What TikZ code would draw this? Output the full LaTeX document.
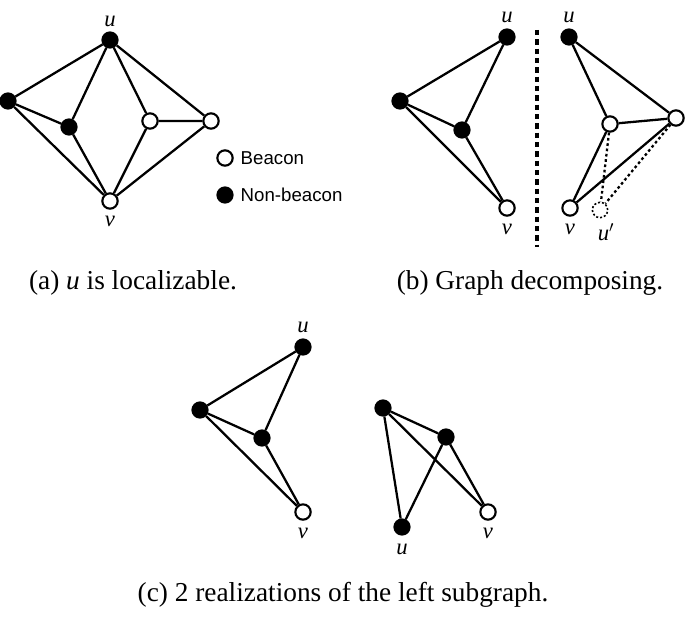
\documentclass[tikz,border=0pt]{standalone}
\usepackage{fontspec}
\setmainfont{Liberation Serif}
\setsansfont{Liberation Sans}
\begin{document}
\begin{tikzpicture}[x=0.75pt,y=-0.75pt,
  bk/.style={circle,fill=black,draw=black,line width=1.4pt,minimum size=11.5pt,inner sep=0},
  wh/.style={circle,fill=white,draw=black,line width=1.6pt,minimum size=11.5pt,inner sep=0},
  gh/.style={circle,fill=white,draw=black,dash pattern=on 1.5pt off 1.5pt,line width=1.2pt,minimum size=11.5pt,inner sep=0},
  ed/.style={line width=1.7pt},
  de/.style={line width=1.7pt,dash pattern=on 2pt off 2pt},
  lab/.style={font=\fontsize{17}{17}\selectfont\itshape},
  captext/.style={font=\fontsize{20.5}{21}\selectfont}]
\useasboundingbox (0,0) rectangle (685,617);
% (a)
\node[bk] (au) at (110,40) {};
\node[bk] (al) at (8,101) {};
\node[bk] (ai) at (69,127) {};
\node[wh] (ar) at (150,121) {};
\node[wh] (aR) at (211,121) {};
\node[wh] (av) at (110,201) {};
\draw[ed] (au)--(al) (au)--(ai) (au)--(ar) (au)--(aR) (al)--(ai) (al)--(av) (ai)--(av) (ar)--(aR) (ar)--(av) (aR)--(av);
\node[lab] (aul) at (110,21) {u};
\node[lab] (avl) at (110,221) {v};
\node[wh] (lb) at (225,158) {};
\node[bk] (ln) at (225,195) {};
\node[anchor=west,font=\sffamily\fontsize{14}{14}\selectfont] (lbt) at (236,158) {Beacon};
\node[anchor=west,font=\sffamily\fontsize{14}{14}\selectfont] (lnt) at (236,195) {Non-beacon};
\node[captext] (ca) at (133,283) {(a) \textit{u} is localizable.};
% (b) left
\node[bk] (bu) at (507,37) {};
\node[bk] (bl) at (400,101) {};
\node[bk] (bi) at (462,130) {};
\node[wh] (bv) at (507,208) {};
\draw[ed] (bu)--(bl) (bu)--(bi) (bl)--(bi) (bl)--(bv) (bi)--(bv);
\node[lab] (bul) at (507,17) {u};
\node[lab] (bvl) at (507,229) {v};
\coordinate (dt) at (537,30);
\coordinate (db) at (537,247);
\draw[line width=2.4pt,dash pattern=on 4pt off 3pt] (dt)--(db);
% (b) right
\node[bk] (cu) at (569,37) {};
\node[wh] (cm) at (610,124) {};
\node[wh] (cr) at (676,118) {};
\node[wh] (cv) at (570,208) {};
\node[gh] (cp) at (600,210) {};
\draw[ed] (cu)--(cm) (cu)--(cr) (cm)--(cr) (cm)--(cv) (cr)--(cv);
\draw[de] (cm)--(cp) (cr)--(cp);
\node[lab] (cul) at (569,17) {u};
\node[lab] (cvl) at (570,229) {v};
\node[lab] (cpl) at (606,232) {u$'$};
\node[captext] (cb) at (530,283) {(b) Graph decomposing.};
% (c) left
\node[bk] (du) at (303,347) {};
\node[bk] (dl) at (200,410) {};
\node[bk] (di) at (262,438) {};
\node[wh] (dv) at (303,512) {};
\draw[ed] (du)--(dl) (du)--(di) (dl)--(di) (dl)--(dv) (di)--(dv);
\node[lab] (dul) at (303,327) {u};
\node[lab] (dvl) at (303,533) {v};
% (c) right
\node[bk] (ea) at (383,408) {};
\node[bk] (eb) at (446,437) {};
\node[bk] (eu) at (402,527) {};
\node[wh] (ev) at (488,512) {};
\draw[ed] (ea)--(eb) (ea)--(ev) (ea)--(eu) (eb)--(eu) (eb)--(ev);
\node[lab] (eul) at (402,549) {u};
\node[lab] (evl) at (488,533) {v};
\node[captext] (cc) at (343,595) {(c) 2 realizations of the left subgraph.};
\end{tikzpicture}
\end{document}
